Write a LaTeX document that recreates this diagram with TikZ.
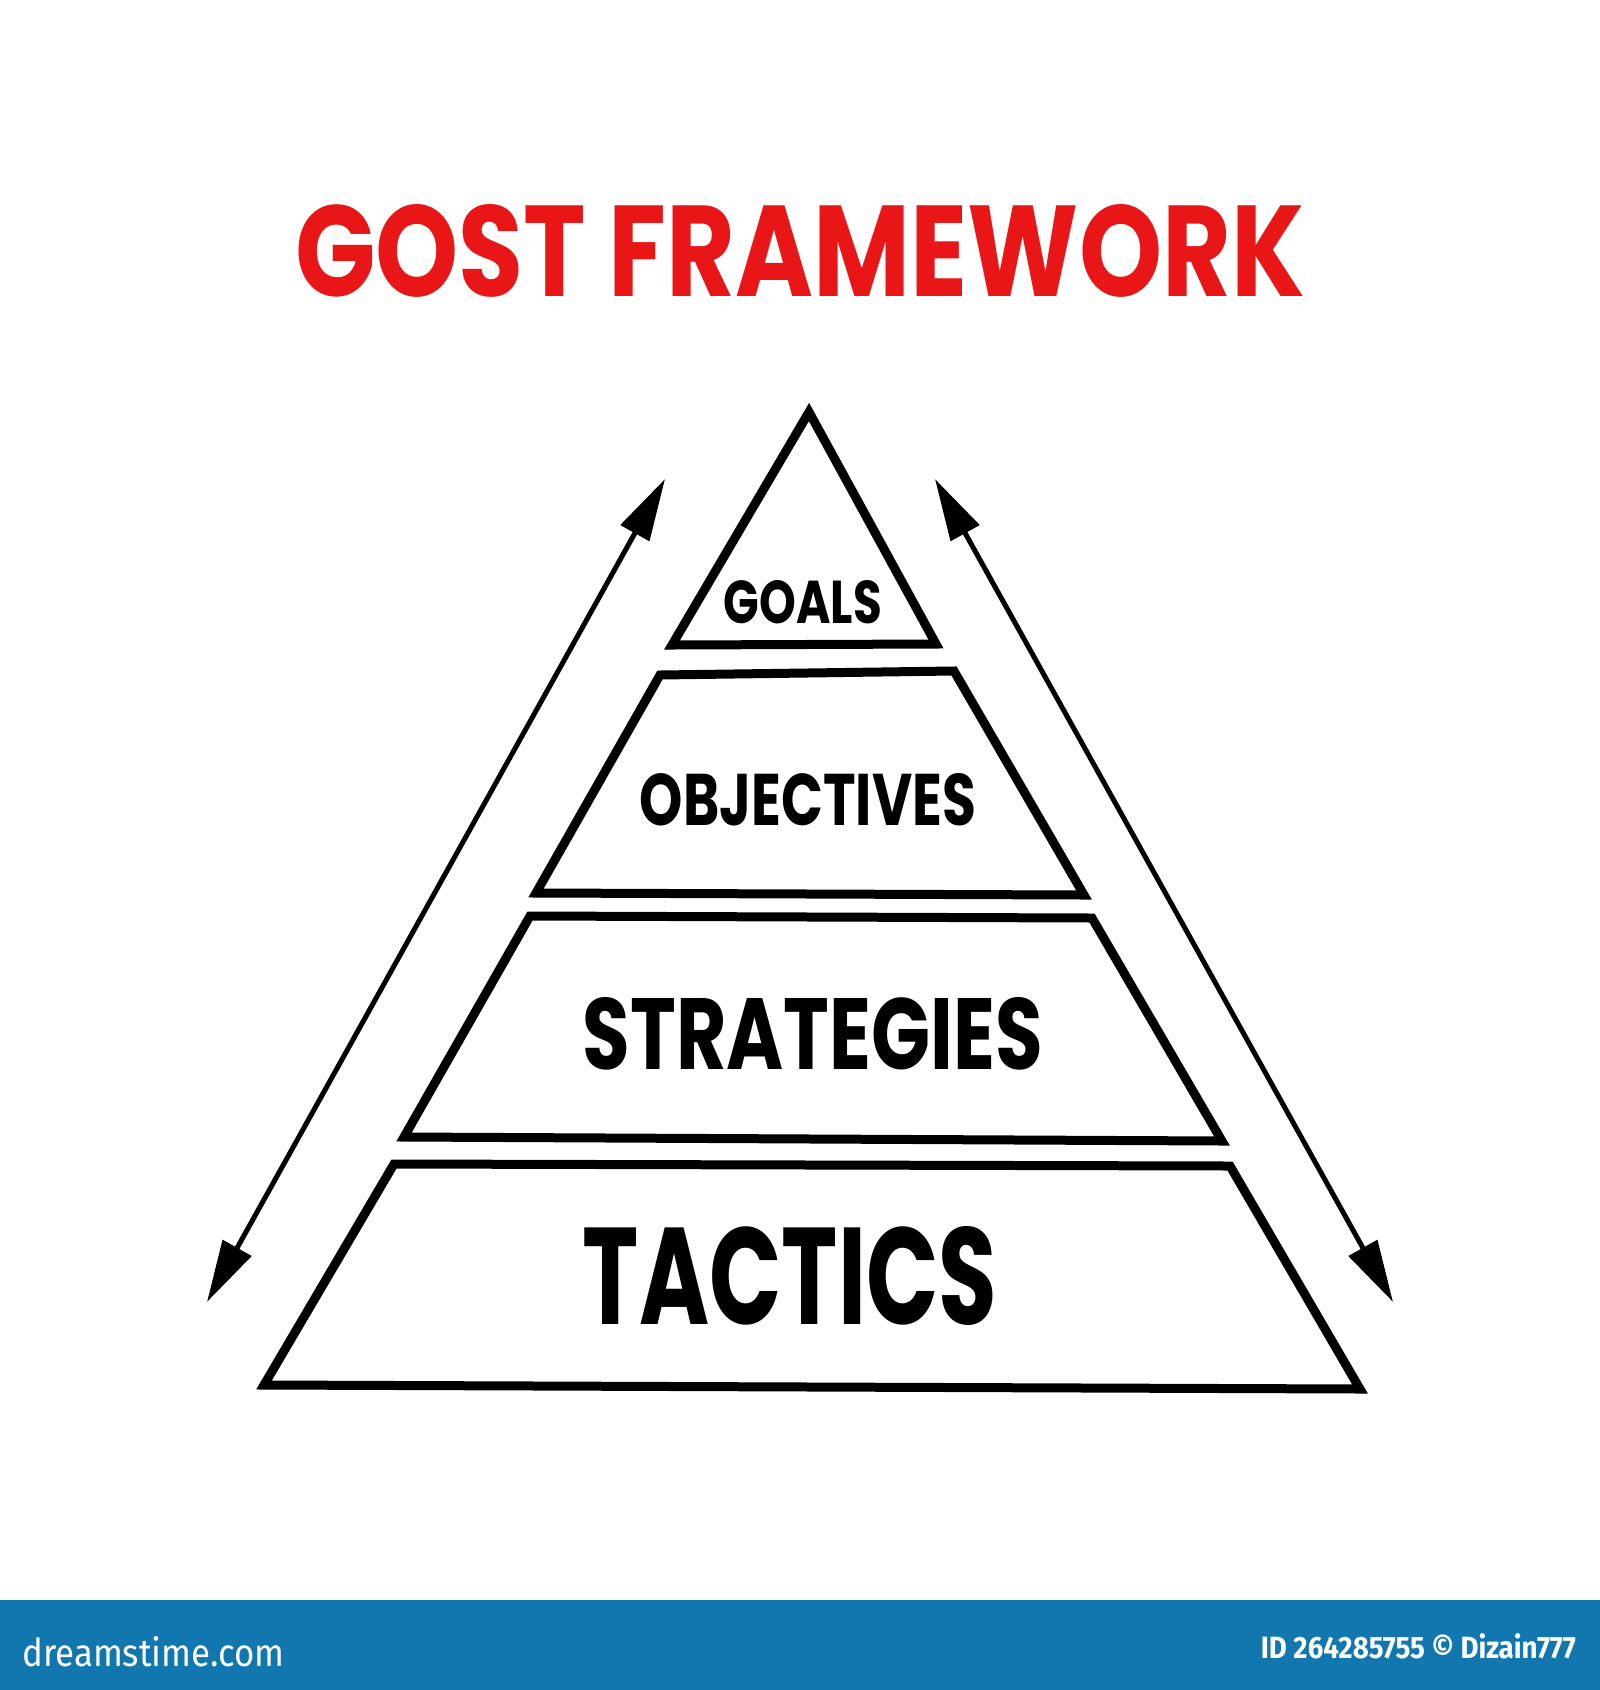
\documentclass[tikz,border=0pt]{standalone}
\usepackage{fontspec}
\setmainfont{Poppins}
\newfontfamily\barfont{Fira Sans}
\usetikzlibrary{arrows.meta}
\definecolor{titlered}{RGB}{232,22,22}
\definecolor{barblue}{RGB}{17,119,174}
\tikzset{
  tier/.style={draw=black, line width=9pt, line join=miter},
  updown/.style={draw=black, line width=5pt, {Triangle[length=62pt,width=32pt]}-{Triangle[length=62pt,width=32pt]}},
  lbl/.style={inner sep=0pt, text=black, font=\bfseries}
}
\begin{document}
\begin{tikzpicture}[x=1pt,y=-1pt]
\useasboundingbox (0,0) rectangle (1600,1690);
\fill[white] (0,0) rectangle (1600,1690);
% title
\node[lbl, text=titlered] (title) at (800,251) {\resizebox{1009pt}{92pt}{GOST FRAMEWORK}};
% pyramid tiers
\draw[tier] (809,412) -- (936,644) -- (672,645) -- cycle;
\draw[tier] (660,675) -- (954,671) -- (1084,895) -- (536,893) -- cycle;
\draw[tier] (530,916) -- (1092,918) -- (1222,1141) -- (404,1137) -- cycle;
\draw[tier] (394,1164) -- (1230,1166) -- (1360,1389) -- (264,1385) -- cycle;
% labels
\node[lbl] (goals) at (803,602) {\resizebox{158pt}{43pt}{GOALS}};
\node[lbl] (objectives) at (808,800) {\resizebox{336pt}{52pt}{OBJECTIVES}};
\node[lbl] (strategies) at (813,1034) {\resizebox{460pt}{72pt}{STRATEGIES}};
\node[lbl] (tactics) at (790,1276) {\resizebox{414pt}{98pt}{TACTICS}};
% double arrows
\coordinate (la) at (665,479);
\coordinate (lb) at (207,1302);
\coordinate (ra) at (935,479);
\coordinate (rb) at (1393,1302);
\draw[updown] (la) -- (lb);
\draw[updown] (ra) -- (rb);
% bottom bar
\fill[barblue] (0,1600) rectangle (1600,1690);
\node[inner sep=0pt, text=white, anchor=west] (dt) at (22,1652) {\resizebox{262pt}{30pt}{\barfont dreamstime.com}};
\node[inner sep=0pt, text=white, anchor=east] (id) at (1576,1646) {\resizebox{315pt}{25pt}{\barfont\bfseries ID 264285755 © Dizain777}};
\end{tikzpicture}
\end{document}
